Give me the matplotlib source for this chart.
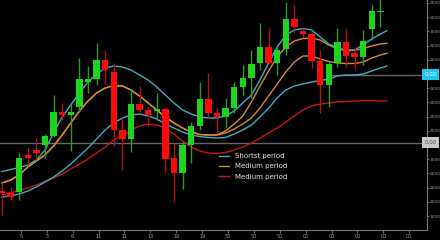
"""Candlestick chart with moving average ribbon, dark theme."""
import numpy as np
import matplotlib
matplotlib.use("Agg")
import matplotlib.pyplot as plt
from matplotlib.lines import Line2D
from matplotlib.transforms import blended_transform_factory

# candles
opens = [39.3, 37.3, 38.3, 75, 80, 85, 94, 118.3, 115, 122.7,
         147.7, 151, 170, 158.3, 100, 91, 126, 120, 119.3, 121,
         71.7, 57.3, 85, 104, 130.7, 116.7, 113.3, 121.7, 143.3, 151.7,
         166.7, 182.7, 166.7, 180.7, 211, 199.3, 195.7, 169, 145, 166.7,
         187.7, 176.7, 173.3, 200.7, 217.7]
highs = [48, 43, 77, 83.3, 92, 96, 135, 126.7, 126, 171.7,
         164.3, 186.7, 180, 166.7, 111.7, 140.7, 144.3, 124, 137.3, 122,
         86.7, 88.3, 108.3, 148.3, 156.7, 121.7, 131.7, 148.3, 165, 180,
         206.7, 201.7, 185, 228.3, 225, 201.7, 198.3, 180, 168.3, 201.7,
         201.7, 183.3, 200, 225, 231]
lows = [15, 30, 30, 65, 70, 72, 93, 110, 79, 118.3,
        136.7, 145, 146, 84, 60, 78.3, 116.7, 104, 110, 58.3,
        28.3, 40.7, 66.7, 100, 112, 96.7, 101.7, 116.7, 135, 131.7,
        160, 166, 155, 175, 197, 193.3, 161.7, 116.7, 122.7, 163.3,
        163.3, 160, 165, 190, 203.3]
closes = [37, 33.3, 72, 72.3, 76.7, 94, 118.3, 115, 117.7, 150.7,
          151, 169.7, 160, 100, 91, 126, 120, 115, 121, 71,
          57.3, 85, 104, 130.7, 116.7, 113.3, 122.3, 143.3, 151.7, 165.7,
          182.7, 166.7, 180, 211, 203.3, 195.7, 169, 145, 165.7, 187.7,
          174.3, 172.7, 189, 219, 219]

# moving average lines (one value per candle, plus the end point)
short_upper = [58.5, 60.5, 62.5, 65, 70, 80, 97, 113, 125, 137,
               148, 156, 162, 164, 163, 160, 155, 150, 143, 135,
               127, 120, 116, 113, 112, 112, 114, 119, 127, 135,
               150, 167, 183, 195, 200, 201.5, 200, 193, 186, 182,
               180, 180, 185, 191, 196, 199.3]
medium_upper = [47, 50, 55, 63, 69, 75, 84, 95, 107, 119,
                129, 137, 142, 144.5, 144, 140, 134, 127, 120, 113,
                107, 102, 98, 95.5, 95, 95, 99, 106, 114, 128,
                144, 159, 173, 183, 189, 191.5, 192, 190, 185, 181,
                179.5, 179.5, 181.5, 184, 186, 186.7]
medium_lower = [47, 50, 55, 63, 69, 75, 84, 95, 107, 119,
                129, 137, 142, 144.5, 144, 140, 134, 127, 120, 113,
                107, 102, 98, 95.5, 95, 95, 97, 101, 106, 112,
                122, 134, 146, 158, 168, 174, 174, 171, 168.5, 167,
                166.5, 166.5, 168, 172, 175, 176.7]
short_lower = [33, 34, 36, 39, 43, 48, 53, 59, 66, 74,
               82, 91, 100, 107, 112, 115, 116, 114, 111, 106,
               102, 98, 95, 93.5, 92.5, 92, 92.5, 96, 100, 105,
               113, 122, 132, 140, 144, 146, 148, 149.5, 151, 154,
               155, 155, 156, 159, 162, 164]
long_line = [35, 37, 39.5, 42, 45, 48.5, 52, 56, 61, 66,
             71, 77, 83, 90, 95, 100, 104, 106, 105, 102,
             96, 89, 83, 79, 77, 76.5, 77.5, 80, 83, 87,
             92, 97, 102, 108, 114, 120, 124, 126, 127, 128,
             128.5, 129, 129.5, 129.5, 129, 129]

x_labels = ["5", "5", "6", "11", "11", "13", "16", "19",
            "50", "50", "50", "00", "00", "00", "00", "00"]
# bottom to top; the two empty slots sit under the price tags
y_labels = ["1000", "2000", "2000", "2000", "3000", "", "3000", "2000",
            "2000", "2000", "", "2000", "3000", "3000", "3000", "2000"]
legend_labels = ["Shortst period", "Medium period", "Medium period"]

level_upper = 155.5
level_lower = 87.3
tag_upper = "0.02"
tag_lower = "0.00"

BG = "#000000"
GREEN = "#1ed41e"
RED = "#fb0a0a"
CYAN = "#3aafc6"
ORANGE = "#d68c28"
LONG = "#c21818"
AXIS = "#7a7a7a"
TXT = "#9a9a9a"

fig = plt.figure(figsize=(4.4, 2.4), dpi=100, facecolor=BG)
ax = fig.add_axes([0, 10 / 240, 427 / 440, 230 / 240], facecolor=BG)

n = len(opens)
idx = np.arange(n)
line_x = np.append(idx, n - 1 + 0.75)

# horizontal levels
ax.axhline(level_lower, color="#666666", lw=1.0, zorder=1)
ax.hlines(level_upper, 38, 60, color="#666666", lw=1.0, zorder=1)

# moving averages
ax.plot(line_x, long_line, color=LONG, lw=1.0, zorder=2)
ax.plot(line_x, short_lower, color=CYAN, lw=1.0, zorder=2)
ax.plot(line_x, medium_lower, color=ORANGE, lw=1.0, zorder=2)
ax.plot(line_x, medium_upper, color=ORANGE, lw=1.0, zorder=2)
ax.plot(line_x, short_upper, color=CYAN, lw=1.0, zorder=2)

# candles
for i in idx:
    o, h, l, c = opens[i], highs[i], lows[i], closes[i]
    up = c >= o
    ax.vlines(i, l, h, color="#2f9a24" if up else "#b01414", lw=1.0, zorder=3)
    ax.bar(i, max(abs(c - o), 1.2), bottom=min(o, c), width=0.76,
           color=GREEN if up else RED, zorder=4)

ax.set_xlim(-0.23, 49.42)
ax.set_ylim(0, 230)

for s in ["top", "left"]:
    ax.spines[s].set_visible(False)
for s in ["right", "bottom"]:
    ax.spines[s].set_color(AXIS)
    ax.spines[s].set_linewidth(0.8)

ax.set_xticks(2.2 + 3.01 * np.arange(len(x_labels)))
ax.set_xticklabels(x_labels)
ax.set_yticks(14 + 14.2 * np.arange(len(y_labels)))
ax.set_yticklabels(y_labels)
ax.yaxis.tick_right()
ax.tick_params(axis="x", colors=AXIS, labelcolor=TXT, labelsize=3.5,
               length=2, width=0.6, pad=1)
ax.tick_params(axis="y", colors=AXIS, labelcolor=TXT, labelsize=3.2,
               length=1.2, width=0.6, pad=0.8)

# price tags on the right axis
tr = blended_transform_factory(ax.transAxes, ax.transData)
ax.text(0.994, level_upper, tag_upper, transform=tr, ha="left", va="center",
        fontsize=4.0, color="#ffffff", clip_on=False, zorder=6,
        bbox=dict(boxstyle="square,pad=0.5", fc="#1ec6f2", ec="none"))
ax.text(0.994, level_lower, tag_lower, transform=tr, ha="left", va="center",
        fontsize=4.0, color="#555555", clip_on=False, zorder=6,
        bbox=dict(boxstyle="square,pad=0.5", fc="#c9c9c9", ec="none"))

handles = [Line2D([], [], color=col, lw=1.0) for col in (CYAN, ORANGE, LONG)]
leg = ax.legend(handles, legend_labels, loc="upper left",
                bbox_to_anchor=(219 / 440, 1 - 153 / 240),
                bbox_transform=fig.transFigure, frameon=False,
                fontsize=5, labelcolor="#e6e6e6", handlelength=1.4,
                handletextpad=0.9, labelspacing=0.62, borderpad=0,
                borderaxespad=0)

fig.savefig("out.png", dpi=100, facecolor=BG)
